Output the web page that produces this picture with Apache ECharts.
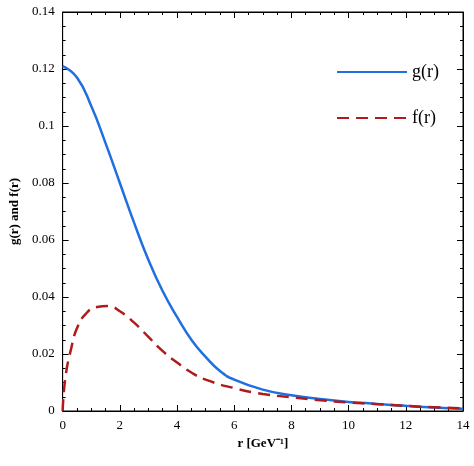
<!DOCTYPE html><html><head><meta charset="utf-8"><script src="https://cdn.jsdelivr.net/npm/echarts@6/dist/echarts.min.js"></script></head><body style="margin:0"><div id="c" style="width:474px;height:466px"></div><script>
var gR=[0,0.5,1,1.5,2,2.5,3,3.5,4,4.5,5,5.5,6,7,8,9,10,11,12,13,14];
var gV=[0.121,0.117,0.107,0.094,0.080,0.066,0.053,0.042,0.033,0.025,0.019,0.014,0.011,0.0075,0.0055,0.0042,0.0032,0.0025,0.0018,0.0012,0.0008];
var fR=[0,0.1,0.3,0.5,0.8,1.2,1.6,2,2.5,3,3.5,4,4.5,5,6,7,8,9,10,11,12,13,14];
var fV=[0,0.012,0.022,0.029,0.034,0.0365,0.0368,0.035,0.031,0.026,0.021,0.017,0.0135,0.011,0.008,0.006,0.0048,0.0038,0.003,0.0024,0.0018,0.0013,0.0009];
var F='Liberation Serif';
function ax(show,pos){return {type:'value',min:0,position:pos,axisLine:{show:true,onZero:false,lineStyle:{color:'#000'}},axisTick:{show:true,inside:true,length:6,lineStyle:{color:'#000'}},minorTick:{show:true,splitNumber:4,length:3,lineStyle:{color:'#000'}},splitLine:{show:false},axisLabel:{show:show,color:'#000',fontFamily:F,fontSize:13}};}
var x1=ax(true,'bottom');x1.max=14;x1.interval=2;x1.name='r [GeV\u207B\u00B9]';x1.nameLocation='middle';x1.nameGap=25;x1.nameTextStyle={fontFamily:F,fontWeight:'bold',fontSize:13,color:'#000'};
var x2=ax(false,'top');x2.max=14;x2.interval=2;
var y1=ax(true,'left');y1.max=0.14;y1.interval=0.02;y1.name='g(r) and f(r)';y1.nameLocation='middle';y1.nameGap=40;y1.nameTextStyle={fontFamily:F,fontWeight:'bold',fontSize:13,color:'#000'};
y1.axisLabel.formatter=function(v){return v===0?'0':String(+v.toFixed(2));};
var y2=ax(false,'right');y2.max=0.14;y2.interval=0.02;
echarts.init(document.getElementById('c')).setOption({animation:false,
grid:{left:62,right:11,top:12,bottom:55,show:true,borderColor:'#000',borderWidth:1},
xAxis:[x1,x2],yAxis:[y1,y2],
legend:{right:30,top:58,orient:'vertical',itemGap:28,itemWidth:70,itemHeight:14,itemStyle:{opacity:0},textStyle:{fontFamily:F,fontSize:18,color:'#000'},data:['g(r)','f(r)']},
series:[
{name:'g(r)',type:'line',smooth:true,symbol:'none',data:gR.map(function(r,i){return [r,gV[i]];}),lineStyle:{color:'#1f6fe0',width:2.5},itemStyle:{color:'#1f6fe0'}},
{name:'f(r)',type:'line',smooth:true,symbol:'none',data:fR.map(function(r,i){return [r,fV[i]];}),lineStyle:{color:'#b01a1a',width:2.5,type:[12,7]},itemStyle:{color:'#b01a1a'}},
{name:'mirror',type:'line',xAxisIndex:1,yAxisIndex:1,symbol:'none',silent:true,data:[[0,0],[14,0.14]],lineStyle:{opacity:0}}
]});
</script></body></html>
